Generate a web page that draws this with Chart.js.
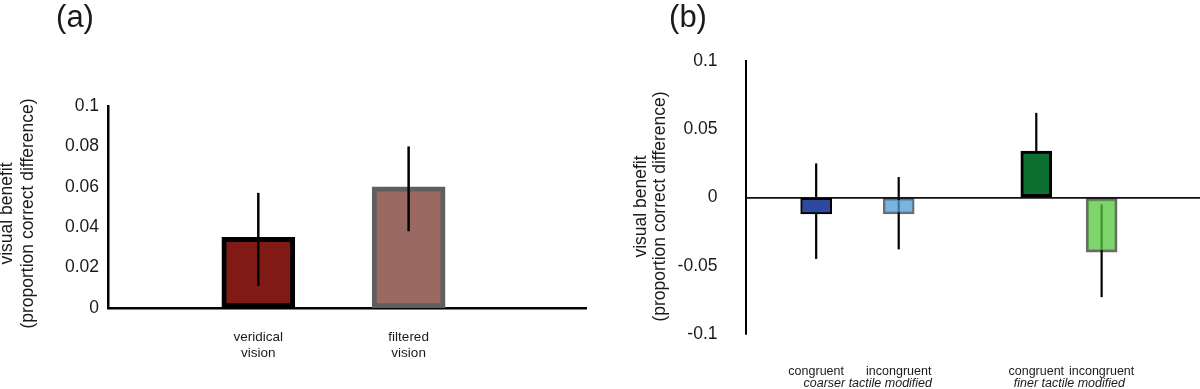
<!DOCTYPE html>
<html>
<head>
<meta charset="utf-8">
<script src="https://cdn.jsdelivr.net/npm/chart.js@4.4.0/dist/chart.umd.min.js"></script>
<style>
  html, body { margin: 0; padding: 0; background: #fff; }
  #wrap { position: relative; width: 1200px; height: 389px; overflow: hidden; }
  #wrap canvas { position: absolute; top: 0; }
</style>
</head>
<body>
<div id="wrap">
  <canvas id="ca" width="600" height="389" style="left:0px"></canvas>
  <canvas id="cb" width="600" height="389" style="left:600px"></canvas>
</div>
<script>
// ---------- Panel (a) data ----------
const catsA = [['veridical', 'vision'], ['filtered', 'vision']];
const slotsA = [1, 2];
const valuesA = [0.035, 0.060];
const errHiA = [0.057, 0.080];
const errLoA = [0.011, 0.038];
const yTicksA = [0, 0.02, 0.04, 0.06, 0.08, 0.1];
const yTickLabelsA = ['0', '0.02', '0.04', '0.06', '0.08', '0.1'];

// ---------- Panel (b) data ----------
const catsB = ['congruent', 'incongruent', 'congruent', 'incongruent'];
const slotsB = [1.02, 2.22, 4.22, 5.17];
const valuesB = [-0.012, -0.012, 0.034, -0.040];
const errHiB = [0.025, 0.015, 0.062, -0.005];
const errLoB = [-0.045, -0.038, 0.006, -0.073];
const groupsB = ['coarser tactile modified', 'finer tactile modified'];
const groupSlotsB = [1.77, 4.70];
const yTicksB = [-0.1, -0.05, 0, 0.05, 0.1];
const yTickLabelsB = ['-0.1', '-0.05', '0', '0.05', '0.1'];

const yTitle = ['visual benefit', '(proportion correct difference)'];
const FONT = '"Liberation Sans", Arial, Helvetica, sans-serif';
const TXT = '#1a1a1a';

function errorPlugin(hi, lo, slots, width, phase) {
  const draw = (chart) => {
    const { ctx, scales: { x, y } } = chart;
    ctx.save();
    ctx.strokeStyle = '#000';
    ctx.lineWidth = width;
    ctx.lineCap = 'butt';
    for (let i = 0; i < slots.length; i++) {
      const px = x.getPixelForValue(slots[i]);
      ctx.beginPath();
      ctx.moveTo(px, y.getPixelForValue(hi[i]));
      ctx.lineTo(px, y.getPixelForValue(lo[i]));
      ctx.stroke();
    }
    ctx.restore();
  };
  return phase === 'before'
    ? { id: 'errbars', beforeDatasetsDraw: draw }
    : { id: 'errbars', afterDatasetsDraw: draw };
}

function decorPlugin(o) {
  return {
    id: 'decor',
    afterDraw(chart) {
      const ctx = chart.ctx;
      ctx.save();
      ctx.fillStyle = TXT;
      ctx.textAlign = 'center';
      ctx.textBaseline = 'middle';
      ctx.font = '31px ' + FONT;
      ctx.fillText(o.label, o.labelX, o.labelY);
      // rotated y title
      ctx.font = '17.5px ' + FONT;
      for (let i = 0; i < yTitle.length; i++) {
        ctx.save();
        ctx.translate(o.titleX[i], o.titleY);
        ctx.rotate(-Math.PI / 2);
        ctx.fillText(yTitle[i], 0, 0);
        ctx.restore();
      }
      if (o.groups) {
        const x = chart.scales.x;
        ctx.font = 'italic 12.5px ' + FONT;
        for (let i = 0; i < o.groups.length; i++) {
          ctx.fillText(o.groups[i], x.getPixelForValue(o.groupSlots[i]), chart.chartArea.bottom + o.groupDy);
        }
      }
      ctx.restore();
    }
  };
}

// ---------- Chart (a) ----------
new Chart(document.getElementById('ca'), {
  type: 'bar',
  data: {
    datasets: [{
      data: slotsA.map((s, i) => ({ x: s, y: valuesA[i] })),
      backgroundColor: ['#7f1b14', '#9a6a62'],
      borderColor: ['#000000', '#5f5f5f'],
      borderWidth: 5,
      borderSkipped: false,
      barThickness: 73
    }]
  },
  options: {
    responsive: false,
    animation: false,
    events: [],
    devicePixelRatio: 1,
    layout: { padding: { top: 106, right: 14, bottom: 0, left: 0 } },
    plugins: { legend: { display: false }, tooltip: { enabled: false }, title: { display: false } },
    scales: {
      x: {
        type: 'linear',
        offset: false,
        min: 0, max: 3.18,
        grid: { display: false, offset: false, drawTicks: false },
        border: { display: true, color: '#000', width: 2.5 },
        afterBuildTicks: (s) => { s.ticks = slotsA.map(v => ({ value: v })); },
        afterFit: (s) => { s.height = 81; },
        ticks: {
          autoSkip: false, maxRotation: 0, minRotation: 0,
          padding: 21,
          color: TXT,
          font: { family: FONT, size: 13.5, lineHeight: '16px' },
          callback: (v) => catsA[slotsA.indexOf(v)]
        }
      },
      y: {
        type: 'linear',
        min: 0, max: 0.1,
        grid: { display: false, drawTicks: false },
        border: { display: true, color: '#000', width: 2.5 },
        afterBuildTicks: (s) => { s.ticks = yTicksA.map(v => ({ value: v })); },
        afterFit: (s) => { s.width = 108; },
        ticks: {
          padding: 9,
          color: TXT,
          font: { family: FONT, size: 17.5 },
          callback: (v) => yTickLabelsA[yTicksA.indexOf(v)]
        }
      }
    }
  },
  plugins: [
    errorPlugin(errHiA, errLoA, slotsA, 2.5, 'after'),
    decorPlugin({ label: '(a)', labelX: 75, labelY: 18.5, titleX: [7, 28], titleY: 213.5 })
  ]
});

// ---------- Chart (b) ----------
new Chart(document.getElementById('cb'), {
  type: 'bar',
  data: {
    datasets: [{
      data: slotsB.map((s, i) => ({ x: s, y: valuesB[i] })),
      backgroundColor: ['#2e4aa0', 'rgba(77,156,213,0.75)', '#0d7030', 'rgba(81,199,57,0.75)'],
      borderColor: ['#000000', 'rgba(0,0,0,0.58)', '#000000', 'rgba(0,0,0,0.58)'],
      borderWidth: [2, 2, 3, 2.5],
      borderSkipped: false,
      barThickness: 31
    }]
  },
  options: {
    responsive: false,
    animation: false,
    events: [],
    devicePixelRatio: 1,
    layout: { padding: { top: 61, right: 0, bottom: 0, left: 0 } },
    plugins: { legend: { display: false }, tooltip: { enabled: false }, title: { display: false } },
    scales: {
      x: {
        type: 'linear',
        offset: false,
        min: 0, max: 6.6,
        grid: { display: false, offset: false, drawTicks: false },
        border: { display: false },
        afterBuildTicks: (s) => { s.ticks = slotsB.map(v => ({ value: v })); },
        afterFit: (s) => { s.height = 55; },
        ticks: {
          autoSkip: false, maxRotation: 0, minRotation: 0,
          padding: 30.5,
          color: TXT,
          font: { family: FONT, size: 12.5, lineHeight: '15px' },
          callback: (v) => catsB[slotsB.indexOf(v)]
        }
      },
      y: {
        type: 'linear',
        min: -0.1, max: 0.1,
        grid: {
          display: true, drawTicks: false,
          color: (c) => (c.tick && c.tick.value === 0 ? '#111' : 'rgba(0,0,0,0)'),
          lineWidth: 1.8
        },
        border: { display: true, color: '#000', width: 2 },
        afterBuildTicks: (s) => { s.ticks = yTicksB.map(v => ({ value: v })); },
        afterFit: (s) => { s.width = 146; },
        ticks: {
          padding: 28.5,
          color: TXT,
          font: { family: FONT, size: 17.5 },
          callback: (v) => yTickLabelsB[yTicksB.indexOf(v)]
        }
      }
    }
  },
  plugins: [
    errorPlugin(errHiB, errLoB, slotsB, 2.2, 'before'),
    decorPlugin({ label: '(b)', labelX: 88, labelY: 18.5, titleX: [41, 60.5], titleY: 206.5,
                  groups: groupsB, groupSlots: groupSlotsB, groupDy: 50 })
  ]
});
</script>
</body>
</html>
